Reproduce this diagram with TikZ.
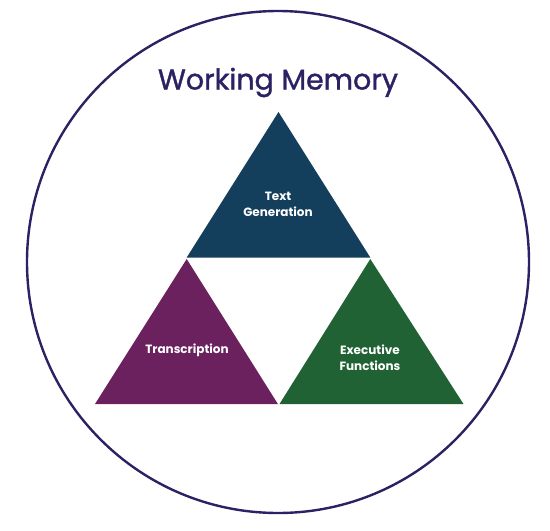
\documentclass[tikz,border=0pt]{standalone}
\usepackage{fontspec}
\setmainfont{Poppins}
\newfontfamily\titlefont[FakeBold=1.3]{Poppins}
\usetikzlibrary{calc}

\begin{document}
\begin{tikzpicture}[x=1pt,y=-1pt,font=\rmfamily]
\definecolor{memory}{RGB}{42,34,98}
\definecolor{generation}{RGB}{19,62,92}
\definecolor{transcription}{RGB}{106,33,94}
\definecolor{executive}{RGB}{33,98,52}
\tikzset{
  part/.style={text=white,font=\bfseries\fontsize{12}{15.5}\selectfont,align=center},
  piece/.style={line join=miter}
}

% Page frame in pixel units of the picture.
\useasboundingbox (0,0) rectangle (550,531);

% Outer working memory circle.
\draw[memory,line width=2.4pt] (278,262) circle [radius=251];
\node[memory,font=\titlefont\fontsize{28.5}{31}\selectfont] (title) at (278,82.5) {Working Memory};

% Corners of the three triangles.
\coordinate (top) at (278.5,112);
\coordinate (midL) at (186.7,257.5);
\coordinate (midR) at (370.3,257.5);
\coordinate (botL) at (95,404);
\coordinate (botM) at (278.7,404);
\coordinate (botR) at (463.5,404);

\fill[generation,piece] (top)--(midR)--(midL)--cycle;
\fill[transcription,piece] ($(midL)+(0,1.5)$)--($(botM)+(-0.8,0)$)--(botL)--cycle;
\fill[executive,piece] ($(midR)+(0,1.5)$)--(botR)--($(botM)+(0.8,0)$)--cycle;

\node[part] (gen) at (278,204.5) {Text\\Generation};
\node[part] (trans) at (187,350) {Transcription};
\node[part] (exec) at (370,357.5) {Executive\\Functions};

\end{tikzpicture}
\end{document}
